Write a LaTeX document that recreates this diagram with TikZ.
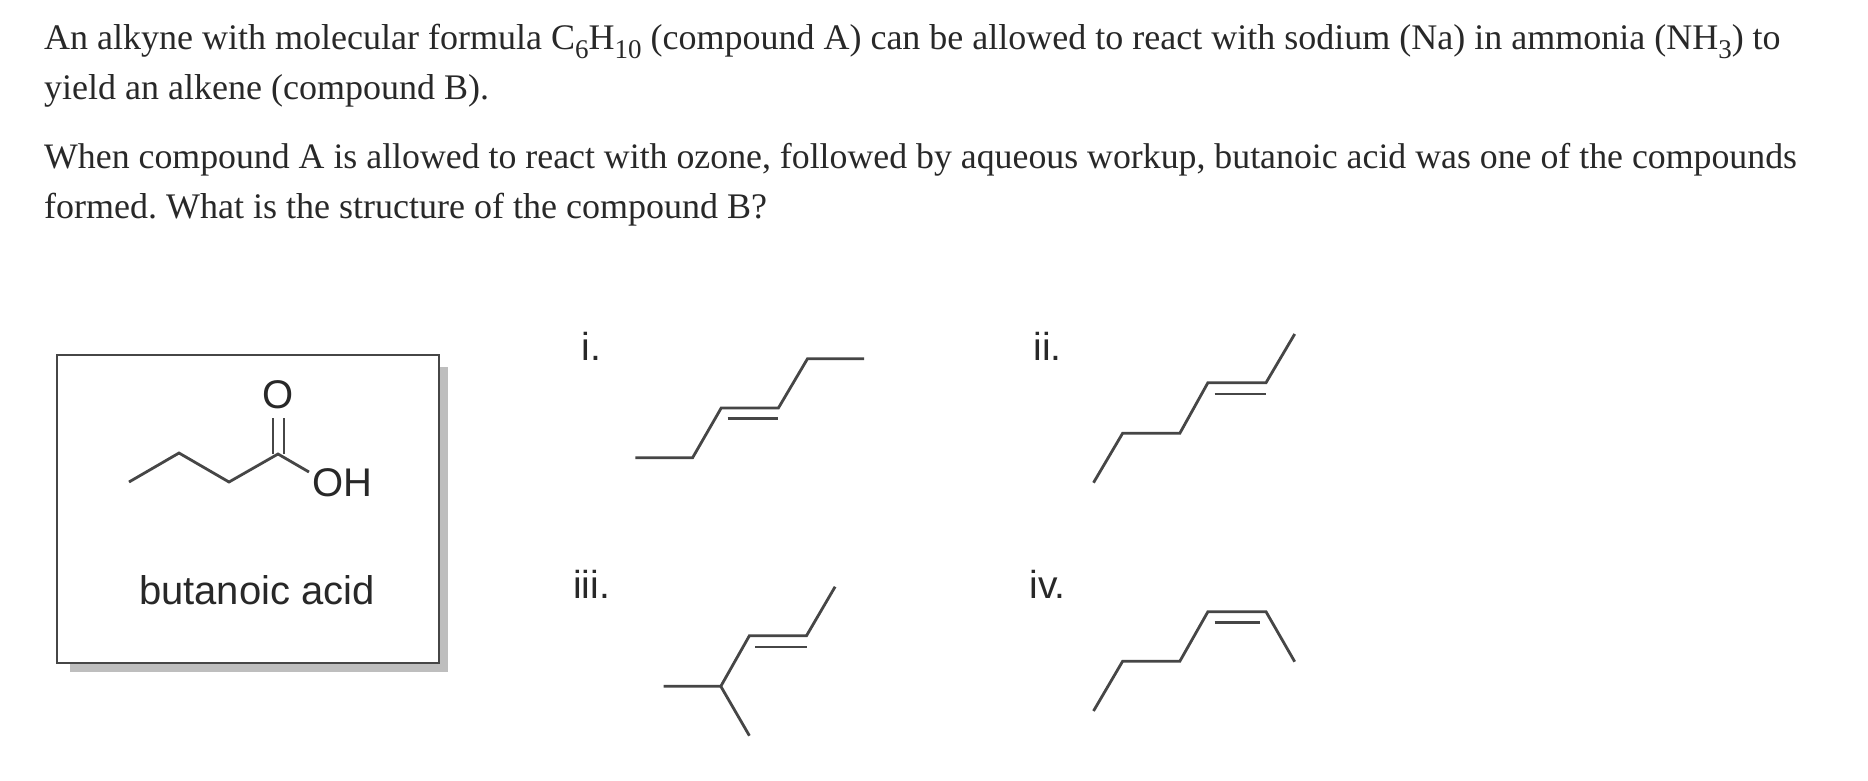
\documentclass[tikz,border=0pt]{standalone}
\usepackage{fontspec}
\setmainfont{Liberation Serif}
\setsansfont{Liberation Sans}
\definecolor{bondgray}{RGB}{70,70,70}
\definecolor{shadowgray}{RGB}{190,190,190}
\definecolor{textgray}{RGB}{40,40,40}
\newcommand{\lowered}[1]{\raisebox{-0.25em}{\fontsize{27}{27}\selectfont #1}}
\tikzset{
    qline/.style={anchor=base west, inner sep=0pt, text=textgray, font=\fontsize{36}{44}\selectfont\frenchspacing},
    optlabel/.style={anchor=base, inner sep=0pt, text=textgray, font=\sffamily\fontsize{39}{44}\selectfont},
    atomlabel/.style={inner sep=0pt, text=textgray, font=\sffamily\fontsize{40}{44}\selectfont},
    bond/.style={draw=bondgray, line width=2.8pt, line join=miter},
    innerbond/.style={draw=bondgray, line width=2.8pt}
}
\begin{document}
\begin{tikzpicture}[x=1pt, y=-1pt]
    \useasboundingbox (0,0) rectangle (1868,780);
    \fill[white] (0,0) rectangle (1868,780);

    % Question text
    \node[qline] (line1) at (44,49) {An alkyne with molecular formula C\lowered{6}H\lowered{10} (compound A) can be allowed to react with sodium (Na) in ammonia (NH\lowered{3}) to};
    \node[qline] (line2) at (44,99) {yield an alkene (compound B).};
    \node[qline, font=\fontsize{35.8}{44}\selectfont\frenchspacing] (line3) at (44,168) {When compound A is allowed to react with ozone, followed by aqueous workup, butanoic acid was one of the compounds};
    \node[qline] (line4) at (44,218) {formed. What is the structure of the compound B?};

    % Butanoic acid box
    \fill[shadowgray] (70,367) rectangle (448,672);
    \draw[fill=white, line width=2.4pt, draw=bondgray] (56.7,355) rectangle (439,663);
    \node[atomlabel] (oxygen) at (278,394.5) {O};
    \node[atomlabel] (hydroxyl) at (342,483) {OH};
    \node[atomlabel] (acidname) at (257,590) {butanoic acid};
    \draw[bond] (129,482) -- (179,453) -- (229,482) -- (278,454) -- (309,472);
    \draw[bond] (273,454) -- (273,418);
    \draw[bond] (284,454) -- (284,418);

    % i.
    \node[optlabel] (labeli) at (591.5,360) {i.};
    \draw[bond] (635.4,457.7) -- (692.6,457.7) -- (721.2,408) -- (778.4,408) -- (807.5,358.7) -- (864.2,358.7);
    \draw[innerbond] (727.5,418.7) -- (778.4,418.7);

    % ii.
    \node[optlabel] (labelii) at (1047.5,360) {ii.};
    \draw[bond] (1093.5,482.7) -- (1122.6,433.3) -- (1179.8,433.3) -- (1207.9,382.7) -- (1266,382.7) -- (1294.7,334);
    \draw[innerbond] (1214.7,394) -- (1266,394);

    % iii.
    \node[optlabel] (labeliii) at (591.5,598) {iii.};
    \draw[bond] (663.6,686.3) -- (720.8,686.3) -- (749.4,635.7) -- (806.5,635.7) -- (835.1,586.7);
    \draw[bond] (720.8,686.3) -- (749.4,735.7);
    \draw[innerbond] (755.2,647) -- (806.5,647);

    % iv.
    \node[optlabel] (labeliv) at (1047.5,598) {iv.};
    \draw[bond] (1093.5,711) -- (1122.6,661.3) -- (1179.8,661.3) -- (1207.9,611.7) -- (1266,611.7) -- (1294.7,661.7);
    \draw[innerbond] (1214.7,622.7) -- (1259.8,622.7);
\end{tikzpicture}
\end{document}
